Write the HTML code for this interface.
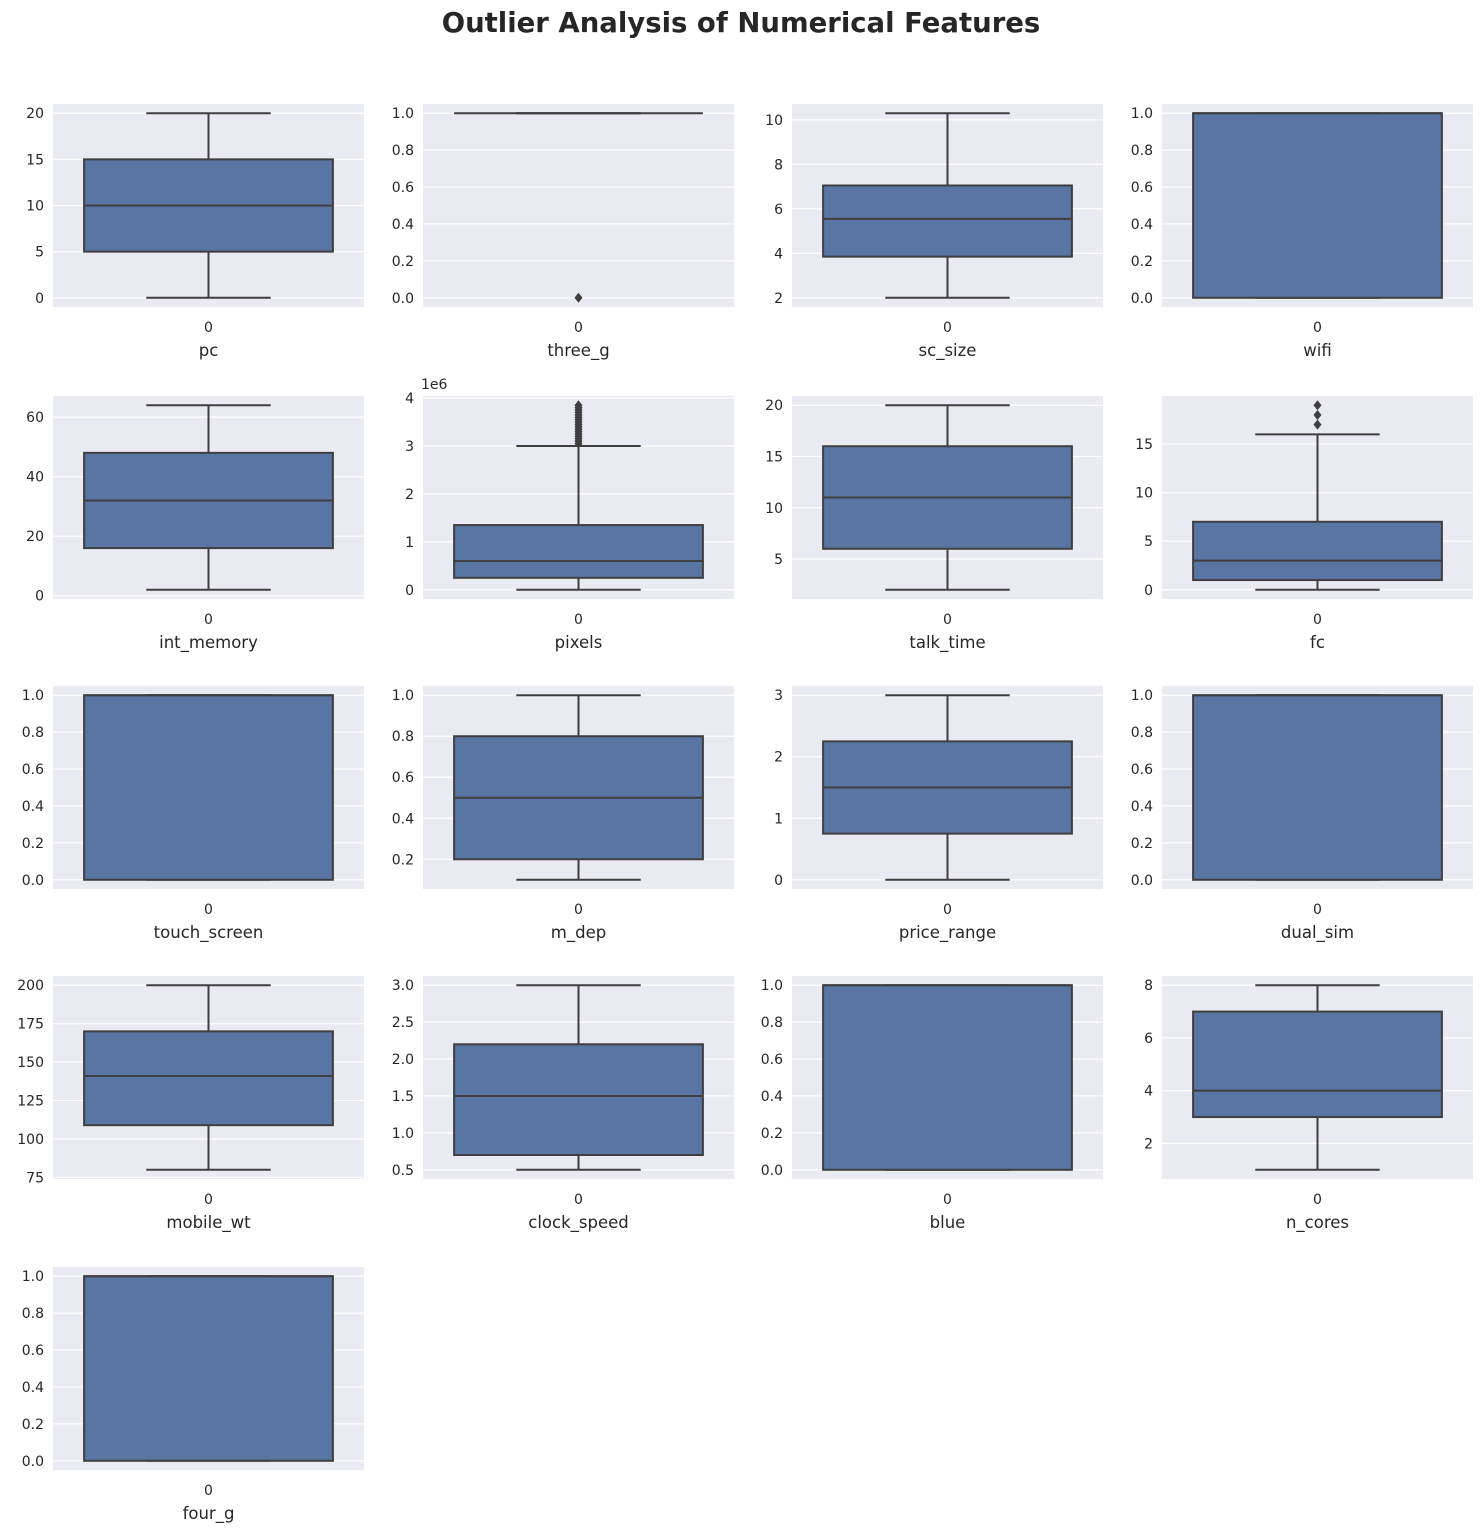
<!DOCTYPE html>
<html><head><meta charset="utf-8"><style>
body{margin:0;background:#fff;}
svg{display:block;font-family:"DejaVu Sans","Liberation Sans",sans-serif;}
</style></head><body>
<svg id="fig" width="1483" height="1532" viewBox="0 0 1483 1532" xmlns="http://www.w3.org/2000/svg">
<text x="741" y="32" text-anchor="middle" font-size="27.5" font-weight="bold" fill="#262626">Outlier Analysis of Numerical Features</text>
</svg>
<script>
const names = ["pc","three_g","sc_size","wifi","int_memory","pixels","talk_time","fc","touch_screen","m_dep","price_range","dual_sim","mobile_wt","clock_speed","blue","n_cores","four_g"];
const whiskLo = [0,1,2,0,2,0,2,0,0,0.1,0,0,80,0.5,0,1,0];
const q1s     = [5,1,3.85,0,16,0.25,6,1,0,0.2,0.75,0,109,0.7,0,3,0];
const medians = [10,1,5.55,1,32,0.6,11,3,1,0.5,1.5,1,141,1.5,1,4,1];
const q3s     = [15,1,7.05,1,48,1.35,16,7,1,0.8,2.25,1,170,2.2,1,7,1];
const whiskHi = [20,1,10.3,1,64,3.0,20,16,1,1.0,3,1,200,3.0,1,8,1];
const outliers = [[],[0],[],[],[],[3.05,3.1,3.15,3.2,3.25,3.3,3.35,3.4,3.45,3.5,3.55,3.6,3.65,3.7,3.75,3.8,3.85],[],[17,18,19],[],[],[],[],[],[],[],[],[]];
const ticks = [[0,5,10,15,20],[0,0.2,0.4,0.6,0.8,1.0],[2,4,6,8,10],[0,0.2,0.4,0.6,0.8,1.0],
 [0,20,40,60],[0,1,2,3,4],[5,10,15,20],[0,5,10,15],
 [0,0.2,0.4,0.6,0.8,1.0],[0.2,0.4,0.6,0.8,1.0],[0,1,2,3],[0,0.2,0.4,0.6,0.8,1.0],
 [75,100,125,150,175,200],[0.5,1.0,1.5,2.0,2.5,3.0],[0,0.2,0.4,0.6,0.8,1.0],[2,4,6,8],
 [0,0.2,0.4,0.6,0.8,1.0]];
const tickLabels = [["0","5","10","15","20"],["0.0","0.2","0.4","0.6","0.8","1.0"],["2","4","6","8","10"],["0.0","0.2","0.4","0.6","0.8","1.0"],
 ["0","20","40","60"],["0","1","2","3","4"],["5","10","15","20"],["0","5","10","15"],
 ["0.0","0.2","0.4","0.6","0.8","1.0"],["0.2","0.4","0.6","0.8","1.0"],["0","1","2","3"],["0.0","0.2","0.4","0.6","0.8","1.0"],
 ["75","100","125","150","175","200"],["0.5","1.0","1.5","2.0","2.5","3.0"],["0.0","0.2","0.4","0.6","0.8","1.0"],["2","4","6","8"],
 ["0.0","0.2","0.4","0.6","0.8","1.0"]];

const NS="http://www.w3.org/2000/svg";
const svg=document.getElementById('fig');
const colX=[53,423,792,1162], rowY=[104,396,686,976,1267];
const W=311, H=203;
function mk(tag,attrs,parent){const e=document.createElementNS(NS,tag);for(const k in attrs)e.setAttribute(k,attrs[k]);(parent||svg).appendChild(e);return e;}
names.forEach((nm,i)=>{
  const x0=colX[i%4], y0=rowY[Math.floor(i/4)];
  const g=mk('g',{});
  
  
  const all=[whiskLo[i],whiskHi[i],...outliers[i]];
  const lo=Math.min(...all), hi=Math.max(...all), pad=(hi-lo)*0.05;
  const ymin=lo-pad, ymax=hi+pad;
  const y=v=>y0+H-(v-ymin)/(ymax-ymin)*H;
  const xf=f=>x0+f*W;
  const bg=mk('rect',{x:x0,y:y0,width:W,height:H,fill:'#eaeaf2'},g);
  
  
  ticks[i].forEach((t,j)=>{
    const yy=y(t);
    mk('line',{x1:x0,x2:x0+W,y1:yy,y2:yy,stroke:'#fff','stroke-width':1.2},g);
    const tl=mk('text',{x:x0-9,y:yy+5,'text-anchor':'end','font-size':14,fill:'#262626'},g);
    tl.textContent=tickLabels[i][j];
    
    
  });
  const st={stroke:'#3f3f3f','stroke-width':2,fill:'none'};
  mk('line',Object.assign({x1:xf(0.5),x2:xf(0.5),y1:y(whiskLo[i]),y2:y(q1s[i])},st),g);
  mk('line',Object.assign({x1:xf(0.5),x2:xf(0.5),y1:y(q3s[i]),y2:y(whiskHi[i])},st),g);
  mk('line',Object.assign({x1:xf(0.3),x2:xf(0.7),y1:y(whiskLo[i]),y2:y(whiskLo[i])},st),g);
  mk('line',Object.assign({x1:xf(0.3),x2:xf(0.7),y1:y(whiskHi[i]),y2:y(whiskHi[i])},st),g);
  const bx=mk('rect',{x:xf(0.1),y:y(q3s[i]),width:xf(0.9)-xf(0.1),height:Math.max(0,y(q1s[i])-y(q3s[i])),fill:'#5875a4',stroke:'#3f3f3f','stroke-width':2},g);
  
  
  mk('line',Object.assign({x1:xf(0.1),x2:xf(0.9),y1:y(medians[i]),y2:y(medians[i])},st),g);
  outliers[i].forEach(v=>{
    const cx=xf(0.5), cy=y(v);
    const d=mk('path',{d:`M${cx},${cy-5}L${cx+4},${cy}L${cx},${cy+5}L${cx-4},${cy}Z`,fill:'#3f3f3f'},g);
    
    
  });
  const xt=mk('text',{x:xf(0.5),y:y0+H+25,'text-anchor':'middle','font-size':14,fill:'#262626'},g);
  xt.textContent='0';
  
  
  const xl=mk('text',{x:xf(0.5),y:y0+H+49,'text-anchor':'middle','font-size':16.5,fill:'#262626'},g);
  xl.textContent=nm;
  
  
  if(nm==='pixels'){
    const off=mk('text',{x:x0-2,y:y0-7,'font-size':14,fill:'#262626'},g);
    off.textContent='1e6';
    
    
  }
});
</script>
</body></html>
